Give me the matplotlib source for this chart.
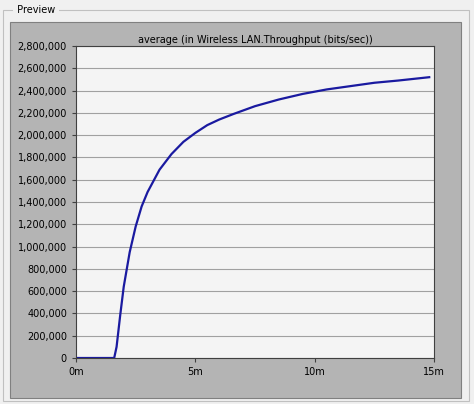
import matplotlib
matplotlib.use("Agg")
import matplotlib.pyplot as plt
from matplotlib.patches import Rectangle
import numpy as np

t_min = [0, 0.5, 1.0, 1.5, 1.6, 1.7, 1.85, 2.0, 2.25, 2.5, 2.75, 3.0, 3.5, 4.0, 4.5, 5.0, 5.5, 6.0, 6.6, 7.5, 8.5, 9.5, 10.5, 11.5, 12.5, 13.5, 14.8]
throughput = [0, 0, 0, 0, 0, 100000, 380000, 640000, 950000, 1180000, 1360000, 1490000, 1690000, 1830000, 1940000, 2020000, 2090000, 2140000, 2190000, 2260000, 2320000, 2370000, 2410000, 2440000, 2470000, 2490000, 2520000]
yticks = list(range(0, 2800001, 200000))
xticks = [0, 5, 10, 15]
xlabels = ["0m", "5m", "10m", "15m"]

W, H = 474, 404
fig = plt.figure(figsize=(W/100, H/100), dpi=100, facecolor="#f0f0f0")
bg = fig.add_axes([0, 0, 1, 1], zorder=-10)
bg.set_xlim(0, W); bg.set_ylim(H, 0); bg.axis("off")
bg.add_patch(Rectangle((3, 10), 466, 391, fill=False, ec="#c0c0c0", lw=0.8))
bg.text(14, 10, " Preview ", fontsize=7, va="center", ha="left",
        bbox=dict(fc="#f0f0f0", ec="none", pad=0.5))
bg.add_patch(Rectangle((10, 22), 451, 376, fc="#b4b4b4", ec="#808080", lw=0.8))

ax = fig.add_axes([76/W, 1-358/H, (434-76)/W, (358-46)/H])
ax.set_facecolor("#f4f4f4")
ax.plot(t_min, throughput, color="#1a1aa0", lw=1.6)
ax.set_xlim(0, 15)
ax.set_ylim(0, 2800000)
ax.set_yticks(yticks)
ax.set_yticklabels([f"{v:,}" for v in yticks], fontsize=7)
ax.set_xticks(xticks)
ax.set_xticklabels(xlabels, fontsize=7)
ax.grid(axis="y", color="#a0a0a0", lw=0.8)
ax.tick_params(length=3, color="#404040")
for s in ax.spines.values():
    s.set_color("#404040"); s.set_linewidth(0.8)
ax.set_title("average (in Wireless LAN.Throughput (bits/sec))", fontsize=7, pad=2)
fig.savefig("out.png", dpi=100, facecolor=fig.get_facecolor())
